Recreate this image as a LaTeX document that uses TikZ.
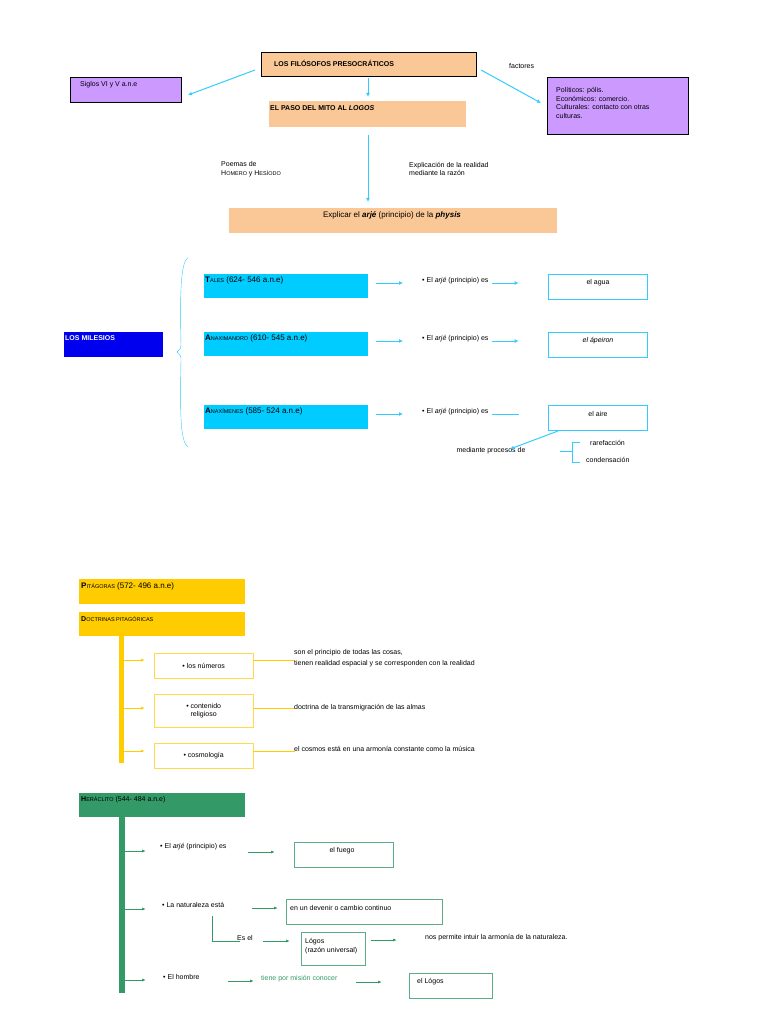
\documentclass[tikz,border=0pt]{standalone}
\usepackage{fontspec}
\setmainfont{Liberation Sans}
\usetikzlibrary{arrows.meta}
\definecolor{peach}{HTML}{FAC896}
\definecolor{lav}{HTML}{CC99FF}
\definecolor{cyn}{HTML}{33CCFF}
\definecolor{cbox}{HTML}{00CCFF}
\definecolor{blu}{HTML}{0000EE}
\definecolor{gold}{HTML}{FFCC00}
\definecolor{grn}{HTML}{339966}
\newcommand{\capsT}[2]{\textbf{#1}{\fontsize{5.5}{6}\selectfont #2}}
\begin{document}
\begin{tikzpicture}[x=1pt,y=-1pt,font=\fontsize{7}{8.5}\selectfont,
 box/.style={draw=none,inner sep=2pt},
 t/.style={anchor=west,inner sep=0pt,align=left},
 ca/.style={cyn,line width=1pt,-{Latex[length=4pt,width=4pt]}},
 ga/.style={grn,line width=0.8pt,-{Latex[length=4pt,width=3pt]}},
 ya/.style={gold,line width=0.8pt,-{Latex[length=4pt,width=3pt]}}]
\useasboundingbox (0,0) rectangle (768,1024);
% top
\draw[fill=peach] (261,52) rectangle (476,76);
\node[t] (lf) at (274,63) {\bfseries LOS FILÓSOFOS PRESOCRÁTICOS};
\draw[fill=lav] (70,77) rectangle (181,102);
\node[t] (sg) at (80,85) {Siglos VI y V a.n.e};
\fill[peach] (269,101) rectangle (466,127);
\node[t] (pm) at (270,108) {\bfseries EL PASO DEL MITO AL \textit{LOGOS}};
\draw[fill=lav] (547,77) rectangle (688,134);
\node[t] (fc) at (556,103) {Políticos: pólis.\\Económicos: comercio.\\Culturales: contacto con otras\\culturas.};
\node[t] (fa) at (509,66) {factores};
\coordinate (a1) at (255,70); \coordinate (a2) at (188,95);
\draw[ca] (a1) -- (a2);
\coordinate (b1) at (368,78); \coordinate (b2) at (368,97);
\draw[ca] (b1) -- (b2);
\coordinate (c1) at (481,70); \coordinate (c2) at (541,103);
\draw[ca] (c1) -- (c2);
\coordinate (d1) at (368,135); \coordinate (d2) at (368,202);
\draw[ca] (d1) -- (d2);
\node[t] (po) at (221,169) {Poemas de\\H{\fontsize{5.5}{6}\selectfont OMERO} y H{\fontsize{5.5}{6}\selectfont ESÍODO}};
\node[t] (ex) at (409,169) {Explicación de la realidad\\mediante la razón};
\fill[peach] (229,208) rectangle (557,233);
\node (ea) at (392,215) {\fontsize{8}{9}\selectfont Explicar el \textbf{\textit{arjé}} (principio) de la \textbf{\textit{physis}}};
% milesios
\fill[blu] (64,332) rectangle (163,357);
\node[t,text=white] (ml) at (65,338) {\bfseries LOS MILESIOS};
\draw[cyn,thin] (188,258) .. controls (180,262) and (180,300) .. (181,345) .. controls (181,348) .. (177,352) .. controls (181,356) .. (181,360) .. controls (180,410) and (180,442) .. (188,447);
\foreach \y/\n/\nm/\lab/\res in {274/ta/Tales/{\capsT{T}{ALES} (624- 546 a.n.e)}/el agua, 332/am/Anaximandro/{\capsT{A}{NAXIMANDRO} (610- 545 a.n.e)}/\textit{el ápeiron}, 405/an/Anaximenes/{\capsT{A}{NAXÍMENES} (585- 524 a.n.e)}/el aire}{
 \fill[cbox] (204,\y) rectangle (368,\y+24);
 \node[t,font=\fontsize{8}{9}\selectfont] (\n) at (205,\y+6) {\lab};
 \coordinate (\n x) at (376,\y+9); \coordinate (\n y) at (403,\y+9);
 \draw[ca] (\n x) -- (\n y);
 \node[t] (\n b) at (422,\y+7) {\textbullet\ El \textit{arjé} (principio) es};
 \node[draw=cyn,minimum width=99pt,minimum height=25pt,anchor=north west,inner sep=0pt,text depth=0pt] (\n r) at (548,\y) {};
 \node (\n rt) at (598,\y+9) {\res};
}
\draw[ca] (tab.east)+(3,2) -- ++(30,2) coordinate(q1);
\draw[ca] (amb.east)+(3,2) -- ++(30,2);
\draw[cyn,line width=1pt] (anb.east)+(3,2) -- ++(30,2);
\node (mp) at (491,451) {mediante procesos de};
\draw[ca] (558,431) -- (510,449);
\draw[cyn] (560,451) -- (572,451) (580,442) -- (572,442) -- (572,462) -- (580,462);
\node[t] (ra) at (590,443) {rarefacción};
\node[t] (co) at (586,460) {condensación};
% pitagoras
\fill[gold] (79,579) rectangle (245,604);
\node[t,font=\fontsize{8}{9}\selectfont] (pi) at (81,586) {\capsT{P}{ITÁGORAS} (572- 496 a.n.e)};
\fill[gold] (79,612) rectangle (245,636);
\node[t] (dp) at (81,619) {\capsT{D}{OCTRINAS PITAGÓRICAS}};
\fill[gold] (119,636) rectangle (124,763);
\foreach \y/\h/\n/\txt/\ly in {653/25/p1/{\textbullet\ los números}/660, 694/33/p2/{\textbullet\ contenido\\religioso}/708, 743/25/p3/{\textbullet\ cosmología}/751}{
 \draw[ya] (124,\ly) -- (145,\ly);
 \node[draw=gold!70,minimum width=99pt,minimum height=\h pt,anchor=north west,inner sep=0pt] (\n) at (154,\y) {};
 \node[align=center] at (\n.center) {\txt};
 \draw[gold] (253,\ly) -- (295,\ly);
}
\node[t] (n1) at (294,658) {son el principio de todas las cosas,\\[2pt]tienen realidad espacial y se corresponden con la realidad};
\node[t] (n2) at (294,708) {doctrina de la transmigración de las almas};
\node[t] (n3) at (294,749) {el cosmos está en una armonía constante como la música};
% heraclito
\fill[grn] (79,793) rectangle (245,817);
\node[t] (he) at (81,800) {\capsT{H}{ERÁCLITO} (544- 484 a.n.e)};
\fill[grn] (119,817) rectangle (125,993);
\foreach \y in {851,909,980}{\draw[ga] (125,\y) -- (146,\y);}
\node[t] (h1) at (160,847) {\textbullet\ El \textit{arjé} (principio) es};
\draw[ga] (248,852) -- (275,852);
\draw[grn!80] (294,842) rectangle (393,867);
\node (fu) at (342,851) {el fuego};
\node[t] (h2) at (162,905) {\textbullet\ La naturaleza está};
\draw[ga] (252,908) -- (278,908);
\draw[grn!80] (286,899) rectangle (442,924);
\node[t] (dv) at (290,908) {en un devenir o cambio continuo};
\draw[grn] (212,916) -- (212,941) -- (240,941);
\node[t] (es) at (237,938) {Es el};
\draw[ga] (263,941) -- (290,941);
\draw[grn!80] (301,932) rectangle (365,965);
\node[t] (lo) at (305,946) {Lógos\\(razón universal)};
\draw[ga] (371,940) -- (397,940);
\node[t] (np) at (425,938) {nos permite intuir la armonía de la naturaleza.};
\node[t] (h3) at (163,977) {\textbullet\ El hombre};
\draw[ga] (228,981) -- (254,981);
\node[t,text=grn] (tm) at (261,979) {tiene por misión conocer};
\draw[ga] (356,982) -- (382,982);
\draw[grn!80] (409,973) rectangle (492,998);
\node[t] (el) at (417,982) {el Lógos};
\end{tikzpicture}
\end{document}
